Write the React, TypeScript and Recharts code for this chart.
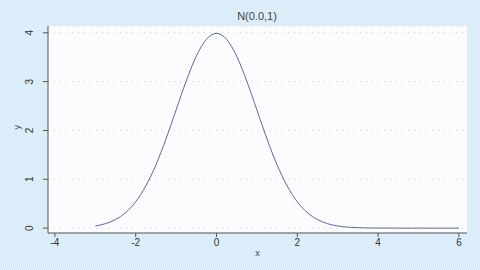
import React from 'react';
import { LineChart, Line, XAxis, YAxis, CartesianGrid } from 'recharts';

// values
const xs = [-3, -2.75, -2.5, -2.25, -2, -1.75, -1.5, -1.25, -1, -0.75, -0.5, -0.25, 0, 0.25, 0.5, 0.75, 1, 1.25, 1.5, 1.75, 2, 2.25, 2.5, 2.75, 3, 3.25, 3.5, 3.75, 4, 4.5, 5, 5.5, 6];
const ys = [0.044, 0.091, 0.175, 0.317, 0.54, 0.863, 1.295, 1.826, 2.42, 3.011, 3.521, 3.867, 3.989, 3.867, 3.521, 3.011, 2.42, 1.826, 1.295, 0.863, 0.54, 0.317, 0.175, 0.091, 0.044, 0.02, 0.009, 0.004, 0.001, 0, 0, 0, 0];
const xTicks = [-4, -2, 0, 2, 4, 6];
const yTicks = [0, 1, 2, 3, 4];
const title = 'N(0.0,1)';

const data = xs.map((x, i) => ({ x, y: ys[i] }));

const FONT = '"Liberation Sans", Arial, sans-serif';

const YTick = (props: any) => {
  const { x, y, payload } = props;
  return (
    <text x={x - 8} y={y} transform={`rotate(-90 ${x - 8} ${y})`} textAnchor="middle" fontSize={10} fill="#333" fontFamily={FONT}>
      {payload.value}
    </text>
  );
};

const App = () => {
  return (
    <div
      style={{
        position: 'fixed',
        left: 0,
        top: 0,
        width: 480,
        height: 270,
        backgroundColor: '#dcecf8',
        backgroundImage:
          'repeating-conic-gradient(#cbeaf5 0 25%, #eaf1fc 0 50%)',
        backgroundSize: '2px 2px',
        fontFamily: FONT,
      }}
    >
      <div style={{ position: 'absolute', left: 0, width: 514, top: 10, textAlign: 'center', fontSize: 11, color: '#444' }}>
        {title}
      </div>
      <LineChart width={480} height={270} data={data} margin={{ top: 26, right: 13, bottom: 8, left: 8 }}>
        <CartesianGrid vertical={false} fill="#fcfcff" stroke="#c8c8c8" strokeDasharray="1 5" />
        <XAxis
          dataKey="x"
          type="number"
          domain={[-4.17, 6.2]}
          ticks={xTicks}
          allowDataOverflow
          height={29}
          stroke="#555"
          tickSize={4}
          tick={{ fontSize: 10, fill: '#333', fontFamily: FONT }}
          label={{ value: 'x', position: 'insideBottom', offset: 6, fontSize: 9, fill: '#444' }}
        />
        <YAxis
          type="number"
          domain={[-0.1, 4.14]}
          ticks={yTicks}
          allowDataOverflow
          width={40}
          stroke="#555"
          tickSize={5}
          tick={<YTick />}
          label={{ value: 'y', angle: -90, position: 'insideLeft', offset: 9, fontSize: 9, fill: '#444' }}
        />
        <Line type="monotone" dataKey="y" stroke="#5a6a9a" strokeWidth={1} dot={false} isAnimationActive={false} />
      </LineChart>
    </div>
  );
};

export default App;
